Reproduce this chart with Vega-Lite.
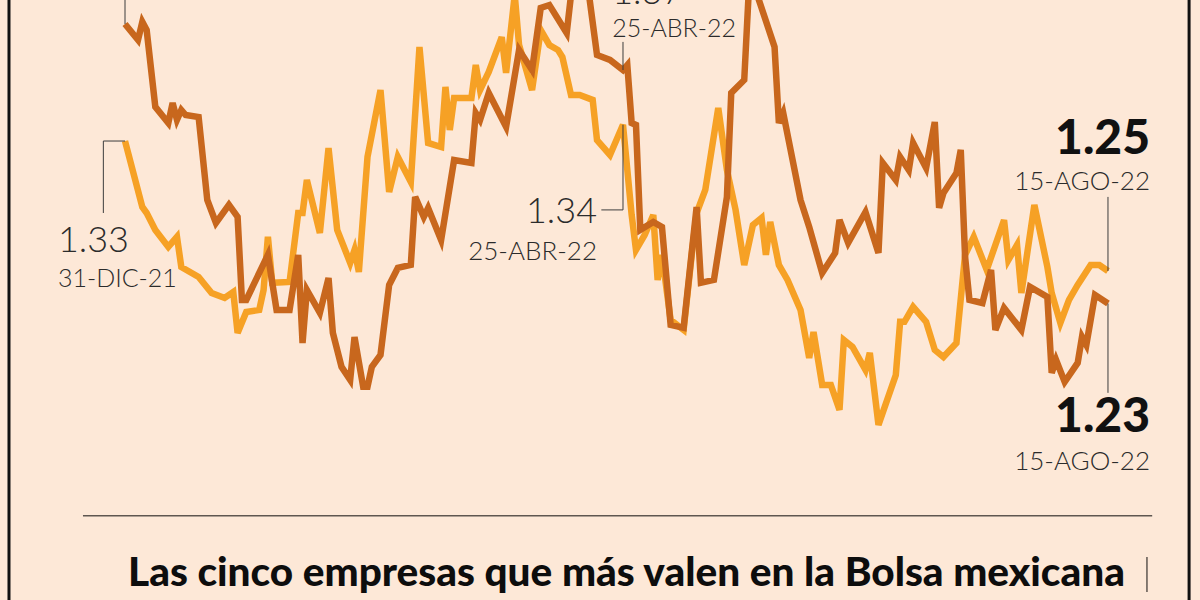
{
  "$schema": "https://vega.github.io/schema/vega-lite/v6.json",
  "width": 1200,
  "height": 600,
  "padding": 0,
  "autosize": {"type": "none"},
  "background": "#fde8d7",
  "config": {"view": {"stroke": null}},
  "datasets": {
    "series": [
      {"fecha": "2021-12-31", "serie": "A", "valor": 1.3300},
      {"fecha": "2022-01-04", "serie": "A", "valor": 1.2894},
      {"fecha": "2022-01-05", "serie": "A", "valor": 1.2857},
      {"fecha": "2022-01-07", "serie": "A", "valor": 1.2753},
      {"fecha": "2022-01-10", "serie": "A", "valor": 1.2648},
      {"fecha": "2022-01-12", "serie": "A", "valor": 1.2710},
      {"fecha": "2022-01-13", "serie": "A", "valor": 1.2525},
      {"fecha": "2022-01-17", "serie": "A", "valor": 1.2463},
      {"fecha": "2022-01-20", "serie": "A", "valor": 1.2365},
      {"fecha": "2022-01-23", "serie": "A", "valor": 1.2334},
      {"fecha": "2022-01-25", "serie": "A", "valor": 1.2371},
      {"fecha": "2022-01-26", "serie": "A", "valor": 1.2119},
      {"fecha": "2022-01-28", "serie": "A", "valor": 1.2248},
      {"fecha": "2022-01-31", "serie": "A", "valor": 1.2260},
      {"fecha": "2022-02-01", "serie": "A", "valor": 1.2383},
      {"fecha": "2022-02-02", "serie": "A", "valor": 1.2710},
      {"fecha": "2022-02-03", "serie": "A", "valor": 1.2427},
      {"fecha": "2022-02-07", "serie": "A", "valor": 1.2433},
      {"fecha": "2022-02-09", "serie": "A", "valor": 1.2857},
      {"fecha": "2022-02-10", "serie": "A", "valor": 1.2857},
      {"fecha": "2022-02-11", "serie": "A", "valor": 1.3060},
      {"fecha": "2022-02-14", "serie": "A", "valor": 1.2734},
      {"fecha": "2022-02-16", "serie": "A", "valor": 1.3257},
      {"fecha": "2022-02-18", "serie": "A", "valor": 1.2753},
      {"fecha": "2022-02-21", "serie": "A", "valor": 1.2550},
      {"fecha": "2022-02-22", "serie": "A", "valor": 1.2630},
      {"fecha": "2022-02-23", "serie": "A", "valor": 1.2494},
      {"fecha": "2022-02-25", "serie": "A", "valor": 1.3202},
      {"fecha": "2022-02-28", "serie": "A", "valor": 1.3614},
      {"fecha": "2022-03-02", "serie": "A", "valor": 1.2987},
      {"fecha": "2022-03-04", "serie": "A", "valor": 1.3202},
      {"fecha": "2022-03-07", "serie": "A", "valor": 1.3048},
      {"fecha": "2022-03-09", "serie": "A", "valor": 1.3879},
      {"fecha": "2022-03-11", "serie": "A", "valor": 1.3288},
      {"fecha": "2022-03-14", "serie": "A", "valor": 1.3263},
      {"fecha": "2022-03-15", "serie": "A", "valor": 1.3633},
      {"fecha": "2022-03-16", "serie": "A", "valor": 1.3368},
      {"fecha": "2022-03-17", "serie": "A", "valor": 1.3565},
      {"fecha": "2022-03-21", "serie": "A", "valor": 1.3565},
      {"fecha": "2022-03-22", "serie": "A", "valor": 1.3768},
      {"fecha": "2022-03-23", "serie": "A", "valor": 1.3614},
      {"fecha": "2022-03-25", "serie": "A", "valor": 1.3725},
      {"fecha": "2022-03-28", "serie": "A", "valor": 1.3940},
      {"fecha": "2022-03-29", "serie": "A", "valor": 1.3719},
      {"fecha": "2022-03-31", "serie": "A", "valor": 1.4199},
      {"fecha": "2022-04-01", "serie": "A", "valor": 1.3891},
      {"fecha": "2022-04-04", "serie": "A", "valor": 1.3614},
      {"fecha": "2022-04-06", "serie": "A", "valor": 1.3983},
      {"fecha": "2022-04-08", "serie": "A", "valor": 1.3891},
      {"fecha": "2022-04-10", "serie": "A", "valor": 1.3860},
      {"fecha": "2022-04-11", "serie": "A", "valor": 1.3817},
      {"fecha": "2022-04-13", "serie": "A", "valor": 1.3583},
      {"fecha": "2022-04-15", "serie": "A", "valor": 1.3583},
      {"fecha": "2022-04-18", "serie": "A", "valor": 1.3553},
      {"fecha": "2022-04-19", "serie": "A", "valor": 1.3306},
      {"fecha": "2022-04-22", "serie": "A", "valor": 1.3214},
      {"fecha": "2022-04-25", "serie": "A", "valor": 1.3400},
      {"fecha": "2022-04-27", "serie": "A", "valor": 1.2845},
      {"fecha": "2022-04-28", "serie": "A", "valor": 1.2630},
      {"fecha": "2022-04-30", "serie": "A", "valor": 1.2722},
      {"fecha": "2022-05-02", "serie": "A", "valor": 1.2845},
      {"fecha": "2022-05-03", "serie": "A", "valor": 1.2445},
      {"fecha": "2022-05-04", "serie": "A", "valor": 1.2599},
      {"fecha": "2022-05-06", "serie": "A", "valor": 1.2199},
      {"fecha": "2022-05-09", "serie": "A", "valor": 1.2137},
      {"fecha": "2022-05-11", "serie": "A", "valor": 1.2630},
      {"fecha": "2022-05-12", "serie": "A", "valor": 1.2857},
      {"fecha": "2022-05-14", "serie": "A", "valor": 1.2999},
      {"fecha": "2022-05-17", "serie": "A", "valor": 1.3503},
      {"fecha": "2022-05-19", "serie": "A", "valor": 1.3122},
      {"fecha": "2022-05-21", "serie": "A", "valor": 1.2876},
      {"fecha": "2022-05-23", "serie": "A", "valor": 1.2537},
      {"fecha": "2022-05-25", "serie": "A", "valor": 1.2783},
      {"fecha": "2022-05-27", "serie": "A", "valor": 1.2827},
      {"fecha": "2022-05-28", "serie": "A", "valor": 1.2599},
      {"fecha": "2022-05-29", "serie": "A", "valor": 1.2802},
      {"fecha": "2022-05-31", "serie": "A", "valor": 1.2537},
      {"fecha": "2022-06-02", "serie": "A", "valor": 1.2445},
      {"fecha": "2022-06-05", "serie": "A", "valor": 1.2260},
      {"fecha": "2022-06-07", "serie": "A", "valor": 1.1965},
      {"fecha": "2022-06-08", "serie": "A", "valor": 1.2125},
      {"fecha": "2022-06-10", "serie": "A", "valor": 1.1799},
      {"fecha": "2022-06-12", "serie": "A", "valor": 1.1799},
      {"fecha": "2022-06-14", "serie": "A", "valor": 1.1645},
      {"fecha": "2022-06-15", "serie": "A", "valor": 1.2076},
      {"fecha": "2022-06-17", "serie": "A", "valor": 1.2033},
      {"fecha": "2022-06-20", "serie": "A", "valor": 1.1891},
      {"fecha": "2022-06-21", "serie": "A", "valor": 1.1996},
      {"fecha": "2022-06-23", "serie": "A", "valor": 1.1553},
      {"fecha": "2022-06-27", "serie": "A", "valor": 1.1860},
      {"fecha": "2022-06-28", "serie": "A", "valor": 1.2187},
      {"fecha": "2022-06-29", "serie": "A", "valor": 1.2187},
      {"fecha": "2022-07-01", "serie": "A", "valor": 1.2279},
      {"fecha": "2022-07-04", "serie": "A", "valor": 1.2187},
      {"fecha": "2022-07-06", "serie": "A", "valor": 1.2014},
      {"fecha": "2022-07-08", "serie": "A", "valor": 1.1971},
      {"fecha": "2022-07-11", "serie": "A", "valor": 1.2057},
      {"fecha": "2022-07-13", "serie": "A", "valor": 1.2599},
      {"fecha": "2022-07-15", "serie": "A", "valor": 1.2710},
      {"fecha": "2022-07-18", "serie": "A", "valor": 1.2507},
      {"fecha": "2022-07-22", "serie": "A", "valor": 1.2814},
      {"fecha": "2022-07-23", "serie": "A", "valor": 1.2568},
      {"fecha": "2022-07-25", "serie": "A", "valor": 1.2660},
      {"fecha": "2022-07-26", "serie": "A", "valor": 1.2365},
      {"fecha": "2022-07-29", "serie": "A", "valor": 1.2907},
      {"fecha": "2022-08-01", "serie": "A", "valor": 1.2525},
      {"fecha": "2022-08-02", "serie": "A", "valor": 1.2365},
      {"fecha": "2022-08-04", "serie": "A", "valor": 1.2180},
      {"fecha": "2022-08-06", "serie": "A", "valor": 1.2322},
      {"fecha": "2022-08-08", "serie": "A", "valor": 1.2414},
      {"fecha": "2022-08-11", "serie": "A", "valor": 1.2537},
      {"fecha": "2022-08-13", "serie": "A", "valor": 1.2537},
      {"fecha": "2022-08-15", "serie": "A", "valor": 1.2500},
      {"fecha": "2021-12-31", "serie": "B", "valor": 1.4020},
      {"fecha": "2022-01-03", "serie": "B", "valor": 1.3922},
      {"fecha": "2022-01-04", "serie": "B", "valor": 1.4033},
      {"fecha": "2022-01-05", "serie": "B", "valor": 1.3983},
      {"fecha": "2022-01-07", "serie": "B", "valor": 1.3510},
      {"fecha": "2022-01-10", "serie": "B", "valor": 1.3411},
      {"fecha": "2022-01-11", "serie": "B", "valor": 1.3534},
      {"fecha": "2022-01-12", "serie": "B", "valor": 1.3430},
      {"fecha": "2022-01-13", "serie": "B", "valor": 1.3491},
      {"fecha": "2022-01-14", "serie": "B", "valor": 1.3460},
      {"fecha": "2022-01-17", "serie": "B", "valor": 1.3448},
      {"fecha": "2022-01-19", "serie": "B", "valor": 1.2937},
      {"fecha": "2022-01-21", "serie": "B", "valor": 1.2796},
      {"fecha": "2022-01-24", "serie": "B", "valor": 1.2907},
      {"fecha": "2022-01-26", "serie": "B", "valor": 1.2833},
      {"fecha": "2022-01-27", "serie": "B", "valor": 1.2322},
      {"fecha": "2022-01-28", "serie": "B", "valor": 1.2322},
      {"fecha": "2022-02-02", "serie": "B", "valor": 1.2599},
      {"fecha": "2022-02-04", "serie": "B", "valor": 1.2260},
      {"fecha": "2022-02-07", "serie": "B", "valor": 1.2260},
      {"fecha": "2022-02-09", "serie": "B", "valor": 1.2599},
      {"fecha": "2022-02-10", "serie": "B", "valor": 1.2057},
      {"fecha": "2022-02-11", "serie": "B", "valor": 1.2383},
      {"fecha": "2022-02-14", "serie": "B", "valor": 1.2242},
      {"fecha": "2022-02-16", "serie": "B", "valor": 1.2457},
      {"fecha": "2022-02-17", "serie": "B", "valor": 1.2119},
      {"fecha": "2022-02-19", "serie": "B", "valor": 1.1910},
      {"fecha": "2022-02-21", "serie": "B", "valor": 1.1830},
      {"fecha": "2022-02-22", "serie": "B", "valor": 1.2094},
      {"fecha": "2022-02-24", "serie": "B", "valor": 1.1787},
      {"fecha": "2022-02-25", "serie": "B", "valor": 1.1787},
      {"fecha": "2022-02-26", "serie": "B", "valor": 1.1910},
      {"fecha": "2022-02-28", "serie": "B", "valor": 1.1983},
      {"fecha": "2022-03-02", "serie": "B", "valor": 1.2414},
      {"fecha": "2022-03-04", "serie": "B", "valor": 1.2519},
      {"fecha": "2022-03-07", "serie": "B", "valor": 1.2537},
      {"fecha": "2022-03-08", "serie": "B", "valor": 1.2956},
      {"fecha": "2022-03-10", "serie": "B", "valor": 1.2833},
      {"fecha": "2022-03-11", "serie": "B", "valor": 1.2888},
      {"fecha": "2022-03-14", "serie": "B", "valor": 1.2691},
      {"fecha": "2022-03-17", "serie": "B", "valor": 1.3183},
      {"fecha": "2022-03-21", "serie": "B", "valor": 1.3165},
      {"fecha": "2022-03-22", "serie": "B", "valor": 1.3473},
      {"fecha": "2022-03-23", "serie": "B", "valor": 1.3430},
      {"fecha": "2022-03-25", "serie": "B", "valor": 1.3596},
      {"fecha": "2022-03-29", "serie": "B", "valor": 1.3387},
      {"fecha": "2022-04-01", "serie": "B", "valor": 1.3860},
      {"fecha": "2022-04-04", "serie": "B", "valor": 1.3737},
      {"fecha": "2022-04-06", "serie": "B", "valor": 1.4119},
      {"fecha": "2022-04-08", "serie": "B", "valor": 1.4137},
      {"fecha": "2022-04-12", "serie": "B", "valor": 1.3965},
      {"fecha": "2022-04-13", "serie": "B", "valor": 1.4199},
      {"fecha": "2022-04-17", "serie": "B", "valor": 1.4230},
      {"fecha": "2022-04-19", "serie": "B", "valor": 1.3830},
      {"fecha": "2022-04-22", "serie": "B", "valor": 1.3799},
      {"fecha": "2022-04-25", "serie": "B", "valor": 1.3737},
      {"fecha": "2022-04-26", "serie": "B", "valor": 1.3768},
      {"fecha": "2022-04-27", "serie": "B", "valor": 1.3411},
      {"fecha": "2022-04-28", "serie": "B", "valor": 1.3399},
      {"fecha": "2022-04-29", "serie": "B", "valor": 1.2753},
      {"fecha": "2022-05-02", "serie": "B", "valor": 1.2802},
      {"fecha": "2022-05-04", "serie": "B", "valor": 1.2771},
      {"fecha": "2022-05-06", "serie": "B", "valor": 1.2168},
      {"fecha": "2022-05-09", "serie": "B", "valor": 1.2150},
      {"fecha": "2022-05-12", "serie": "B", "valor": 1.2894},
      {"fecha": "2022-05-13", "serie": "B", "valor": 1.2427},
      {"fecha": "2022-05-16", "serie": "B", "valor": 1.2445},
      {"fecha": "2022-05-19", "serie": "B", "valor": 1.2956},
      {"fecha": "2022-05-20", "serie": "B", "valor": 1.3596},
      {"fecha": "2022-05-23", "serie": "B", "valor": 1.3676},
      {"fecha": "2022-05-24", "serie": "B", "valor": 1.4199},
      {"fecha": "2022-05-26", "serie": "B", "valor": 1.4199},
      {"fecha": "2022-05-30", "serie": "B", "valor": 1.3879},
      {"fecha": "2022-05-31", "serie": "B", "valor": 1.3411},
      {"fecha": "2022-06-01", "serie": "B", "valor": 1.3473},
      {"fecha": "2022-06-05", "serie": "B", "valor": 1.2937},
      {"fecha": "2022-06-07", "serie": "B", "valor": 1.2771},
      {"fecha": "2022-06-10", "serie": "B", "valor": 1.2488},
      {"fecha": "2022-06-13", "serie": "B", "valor": 1.2611},
      {"fecha": "2022-06-14", "serie": "B", "valor": 1.2814},
      {"fecha": "2022-06-16", "serie": "B", "valor": 1.2673},
      {"fecha": "2022-06-20", "serie": "B", "valor": 1.2863},
      {"fecha": "2022-06-23", "serie": "B", "valor": 1.2611},
      {"fecha": "2022-06-24", "serie": "B", "valor": 1.3165},
      {"fecha": "2022-06-27", "serie": "B", "valor": 1.3060},
      {"fecha": "2022-06-28", "serie": "B", "valor": 1.3202},
      {"fecha": "2022-06-30", "serie": "B", "valor": 1.3122},
      {"fecha": "2022-07-01", "serie": "B", "valor": 1.3288},
      {"fecha": "2022-07-04", "serie": "B", "valor": 1.3134},
      {"fecha": "2022-07-06", "serie": "B", "valor": 1.3417},
      {"fecha": "2022-07-07", "serie": "B", "valor": 1.2888},
      {"fecha": "2022-07-08", "serie": "B", "valor": 1.2980},
      {"fecha": "2022-07-11", "serie": "B", "valor": 1.3103},
      {"fecha": "2022-07-12", "serie": "B", "valor": 1.3245},
      {"fecha": "2022-07-13", "serie": "B", "valor": 1.2587},
      {"fecha": "2022-07-14", "serie": "B", "valor": 1.2322},
      {"fecha": "2022-07-17", "serie": "B", "valor": 1.2303},
      {"fecha": "2022-07-19", "serie": "B", "valor": 1.2507},
      {"fecha": "2022-07-20", "serie": "B", "valor": 1.2137},
      {"fecha": "2022-07-22", "serie": "B", "valor": 1.2273},
      {"fecha": "2022-07-26", "serie": "B", "valor": 1.2137},
      {"fecha": "2022-07-28", "serie": "B", "valor": 1.2402},
      {"fecha": "2022-08-01", "serie": "B", "valor": 1.2340},
      {"fecha": "2022-08-02", "serie": "B", "valor": 1.1873},
      {"fecha": "2022-08-03", "serie": "B", "valor": 1.1953},
      {"fecha": "2022-08-05", "serie": "B", "valor": 1.1817},
      {"fecha": "2022-08-08", "serie": "B", "valor": 1.1934},
      {"fecha": "2022-08-09", "serie": "B", "valor": 1.2094},
      {"fecha": "2022-08-10", "serie": "B", "valor": 1.2045},
      {"fecha": "2022-08-12", "serie": "B", "valor": 1.2353},
      {"fecha": "2022-08-15", "serie": "B", "valor": 1.2300}
    ],
    "guias": [
      {"fecha": "2021-12-26", "fecha_fin": "2021-12-31", "valor": 1.33, "valor_fin": 1.33},
      {"fecha": "2021-12-26", "fecha_fin": "2021-12-26", "valor": 1.2857, "valor_fin": 1.33},
      {"fecha": "2021-12-31", "fecha_fin": "2021-12-31", "valor": 1.402, "valor_fin": 1.44},
      {"fecha": "2022-04-25", "fecha_fin": "2022-04-25", "valor": 1.2876, "valor_fin": 1.34},
      {"fecha": "2022-04-20", "fecha_fin": "2022-04-25", "valor": 1.2876, "valor_fin": 1.2876},
      {"fecha": "2022-04-25", "fecha_fin": "2022-04-25", "valor": 1.3737, "valor_fin": 1.391},
      {"fecha": "2022-08-15", "fecha_fin": "2022-08-15", "valor": 1.25, "valor_fin": 1.2956},
      {"fecha": "2022-08-15", "fecha_fin": "2022-08-15", "valor": 1.175, "valor_fin": 1.23}
    ],
    "marco": [
      {"fecha": "2021-12-04T05:00:00Z", "fecha_fin": "2021-12-04T05:00:00Z", "valor": 1.0475, "valor_fin": 1.4168},
      {"fecha": "2022-09-02T17:30:00Z", "fecha_fin": "2022-09-02T17:30:00Z", "valor": 1.0475, "valor_fin": 1.4168}
    ],
    "separadores": [
      {"fecha": "2021-12-21T07:00:00Z", "fecha_fin": "2022-08-25T05:00:00Z", "valor": 1.0993, "valor_fin": 1.0993},
      {"fecha": "2022-08-24", "fecha_fin": "2022-08-24", "valor": 1.0525, "valor_fin": 1.074}
    ],
    "etiquetas": [
      {"fecha": "2021-12-15T12:00:00Z", "valor": 1.2617, "texto": "1.33", "serie": "A", "rol": "cifra"},
      {"fecha": "2021-12-15T12:00:00Z", "valor": 1.2402, "texto": "31-DIC-21", "serie": "A", "rol": "dia"},
      {"fecha": "2022-04-19", "valor": 1.2796, "texto": "1.34", "serie": "A", "rol": "cifra"},
      {"fecha": "2022-04-19", "valor": 1.2568, "texto": "25-ABR-22", "serie": "A", "rol": "dia"},
      {"fecha": "2022-04-22T12:00:00Z", "valor": 1.4143, "texto": "1.37", "serie": "B", "rol": "cifra"},
      {"fecha": "2022-04-22T12:00:00Z", "valor": 1.394, "texto": "25-ABR-22", "serie": "B", "rol": "dia"},
      {"fecha": "2022-08-24T17:00:00Z", "valor": 1.322, "texto": "1.25", "serie": "A", "rol": "cifra"},
      {"fecha": "2022-08-24T17:00:00Z", "valor": 1.2999, "texto": "15-AGO-22", "serie": "A", "rol": "dia"},
      {"fecha": "2022-08-24T17:00:00Z", "valor": 1.151, "texto": "1.23", "serie": "B", "rol": "cifra"},
      {"fecha": "2022-08-24T17:00:00Z", "valor": 1.1276, "texto": "15-AGO-22", "serie": "B", "rol": "dia"}
    ],
    "titulo": [
      {"fecha": "2021-12-31T17:00:00Z", "valor": 1.0562, "texto": "Las cinco empresas que más valen en la Bolsa mexicana"}
    ]
  },
  "encoding": {
    "x": {
      "field": "fecha",
      "type": "temporal",
      "scale": {
        "domain": [
          {"year": 2021, "month": 12, "date": 2, "hours": 3, "minutes": 10, "utc": true},
          {"year": 2022, "month": 9, "date": 5, "hours": 6, "utc": true}
        ],
        "nice": false
      },
      "axis": null
    },
    "y": {
      "field": "valor",
      "type": "quantitative",
      "scale": {"domain": [1.0475, 1.4168], "zero": false, "nice": false},
      "axis": null
    }
  },
  "layer": [
    {
      "data": {"name": "marco"},
      "mark": {"type": "rule", "color": "#111111", "strokeWidth": 3},
      "encoding": {"x2": {"field": "fecha_fin"}, "y2": {"field": "valor_fin"}}
    },
    {
      "data": {"name": "separadores"},
      "mark": {"type": "rule", "color": "#5e5650", "strokeWidth": 1.5},
      "encoding": {"x2": {"field": "fecha_fin"}, "y2": {"field": "valor_fin"}}
    },
    {
      "data": {"name": "series"},
      "transform": [{"filter": "datum.serie === 'A'"}],
      "mark": {"type": "line", "color": "#f6a125", "strokeWidth": 6.5, "clip": true}
    },
    {
      "data": {"name": "series"},
      "transform": [{"filter": "datum.serie === 'B'"}],
      "mark": {"type": "line", "color": "#c8671d", "strokeWidth": 6.5, "clip": true}
    },
    {
      "data": {"name": "guias"},
      "mark": {"type": "rule", "color": "#3d3d3d", "strokeWidth": 1},
      "encoding": {"x2": {"field": "fecha_fin"}, "y2": {"field": "valor_fin"}}
    },
    {
      "data": {"name": "series"},
      "transform": [
        {"filter": "indexof(['2021-12-31', '2022-04-25', '2022-08-15'], isDate(datum.fecha) ? utcFormat(datum.fecha, '%Y-%m-%d') : datum.fecha) >= 0"}
      ],
      "mark": {"type": "circle", "size": 22, "color": "#111111", "opacity": 1}
    },
    {
      "data": {"name": "etiquetas"},
      "transform": [{"filter": "datum.texto === '1.33' || datum.texto === '1.37'"}],
      "mark": {"type": "text", "align": "left", "baseline": "alphabetic", "font": "Lato", "fontWeight": 300, "fontSize": 36, "color": "#2b2b2b"},
      "encoding": {"text": {"field": "texto"}}
    },
    {
      "data": {"name": "etiquetas"},
      "transform": [{"filter": "datum.texto === '1.34'"}],
      "mark": {"type": "text", "align": "right", "baseline": "alphabetic", "font": "Lato", "fontWeight": 300, "fontSize": 36, "color": "#2b2b2b"},
      "encoding": {"text": {"field": "texto"}}
    },
    {
      "data": {"name": "etiquetas"},
      "transform": [{"filter": "datum.texto === '1.25' || datum.texto === '1.23'"}],
      "mark": {"type": "text", "align": "right", "baseline": "alphabetic", "font": "Lato", "fontWeight": 900, "fontSize": 48, "color": "#111111"},
      "encoding": {"text": {"field": "texto"}}
    },
    {
      "data": {"name": "etiquetas"},
      "transform": [{"filter": "datum.rol === 'dia' && (datum.texto === '31-DIC-21' || (datum.texto === '25-ABR-22' && datum.serie === 'B'))"}],
      "mark": {"type": "text", "align": "left", "baseline": "alphabetic", "font": "Lato", "fontWeight": 300, "fontSize": 25, "color": "#2b2b2b"},
      "encoding": {"text": {"field": "texto"}}
    },
    {
      "data": {"name": "etiquetas"},
      "transform": [{"filter": "datum.rol === 'dia' && (datum.texto === '15-AGO-22' || (datum.texto === '25-ABR-22' && datum.serie === 'A'))"}],
      "mark": {"type": "text", "align": "right", "baseline": "alphabetic", "font": "Lato", "fontWeight": 300, "fontSize": 26, "color": "#2b2b2b"},
      "encoding": {"text": {"field": "texto"}}
    },
    {
      "data": {"name": "titulo"},
      "mark": {"type": "text", "align": "left", "baseline": "alphabetic", "font": "Lato", "fontWeight": 900, "fontSize": 40.5, "color": "#0d0d0d"},
      "encoding": {"text": {"field": "texto"}}
    }
  ]
}
